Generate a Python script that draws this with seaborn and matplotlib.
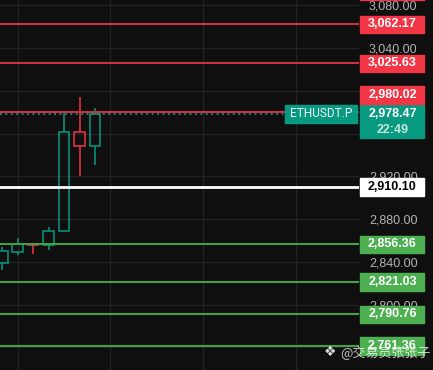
import matplotlib
matplotlib.use("Agg")
import matplotlib.pyplot as plt
from matplotlib.patches import Rectangle
import matplotlib.transforms as mtransforms
import seaborn as sns
import pandas as pd

# ---------------- data ----------------
candle_idx = [0, 1, 2, 3, 4, 5, 6]
opens  = [2839.0, 2849.4, 2856.5, 2856.0, 2868.5, 2961.1, 2948.0]
highs  = [2854.0, 2862.3, 2856.5, 2872.6, 2978.9, 2994.2, 2983.9]
lows   = [2832.3, 2846.4, 2847.6, 2851.3, 2868.5, 2920.5, 2930.8]
closes = [2850.1, 2856.4, 2856.0, 2868.5, 2961.1, 2948.0, 2978.47]

level_prices = [3093.0, 3062.17, 3025.63, 2980.02, 2910.10, 2856.36, 2821.03, 2790.76, 2761.36]
level_kinds  = ["res", "res", "res", "res", "pivot", "sup", "sup", "sup", "sup"]

current_price = 2978.47
symbol = "ETHUSDT.P"
countdown = "22:49"
tick_prices = [2760, 2800, 2840, 2880, 2920, 2960, 3000, 3040, 3080]
grid_x = [1, 7, 13, 19]
watermark = "@交易员张张子"

# ---------------- style ----------------
BG = "#0F0F0F"
UP = "#089981"
DOWN = "#F23645"
box_col = {"res": "#F23645", "pivot": "#FFFFFF", "sup": "#4CAF50"}
line_col = {"res": "#CC3340", "pivot": "#FFFFFF", "sup": "#43A047"}
line_w = {"res": 1.5, "pivot": 2.0, "sup": 1.5}
txt_col = {"res": "white", "pivot": "black", "sup": "white"}

sns.set_theme(style="dark", rc={"axes.facecolor": BG, "figure.facecolor": BG})
plt.rcParams["font.family"] = ["Liberation Sans", "Noto Sans CJK SC", "DejaVu Sans"]

W, H = 433, 370
YMIN, YMAX = 2738.8, 3084.9
ppu = H / (YMAX - YMIN)

fig = plt.figure(figsize=(W / 100, H / 100), dpi=100)
fig.patch.set_facecolor(BG)
ax = fig.add_axes([0, 0, 359 / W, 1])
ax.set_facecolor(BG)
ax.set_ylim(YMIN, YMAX)
ax.set_xlim(-0.149, 23.09)
ax.set_xticks(grid_x)
ax.set_yticks(tick_prices)
ax.grid(True, color="#222222", lw=1)
ax.tick_params(axis="x", bottom=False, labelbottom=False)
ax.yaxis.tick_right()
ax.tick_params(axis="y", right=False, left=False, length=0, pad=7.2,
               labelsize=9, labelcolor="#B4B4B4")
for s in ax.spines.values():
    s.set_visible(False)

# ---------------- candles ----------------
df = pd.DataFrame(dict(i=candle_idx, o=opens, h=highs, l=lows, c=closes))
df["up"] = df.c >= df.o
for _, r in df.iterrows():
    col = UP if r.up else DOWN
    top, bot = max(r.o, r.c), min(r.o, r.c)
    if r.h > top:
        ax.vlines(r.i, top, r.h, color=col, lw=1.1, zorder=3)
    if r.l < bot:
        ax.vlines(r.i, r.l, bot, color=col, lw=1.1, zorder=3)
    ax.bar(r.i, max(top - bot, 0.05), bottom=bot, width=0.68,
           facecolor="none", edgecolor=col, lw=1.1, zorder=3)

# ---------------- level lines ----------------
for p, k in zip(level_prices, level_kinds):
    ax.axhline(p, color=line_col[k], lw=line_w[k], zorder=4)
ax.axhline(current_price, xmin=0, xmax=285 / 359, color=UP, lw=1.3,
           ls=(0, (1, 2)), zorder=4)

# ---------------- right scale labels ----------------
trans = mtransforms.blended_transform_factory(fig.transFigure, ax.transData)
box_h = 17.5 / ppu
bx0, bw = 360 / W, 64 / W
tx = 392.5 / W

covered = []  # price intervals hidden by label boxes

# current price box
pb_top = current_price + 8.5 / ppu
pb_bot = current_price - 24.5 / ppu
covered.append((pb_bot, pb_top))
fig.add_artist(Rectangle((bx0, pb_bot), bw, pb_top - pb_bot, transform=trans,
                         color=UP, zorder=5, clip_on=False))
fig.text(tx, current_price, f"{current_price:,.2f}", transform=trans, ha="center",
         va="center", color="white", fontsize=9, fontweight="bold", zorder=6)
fig.text(tx, current_price - 16.5 / ppu, countdown, transform=trans, ha="center",
         va="center", color="#C4E8DF", fontsize=9, fontweight="bold", zorder=6)
# symbol tag
fig.add_artist(Rectangle((285 / W, current_price - 9 / ppu), 72 / W, 18 / ppu,
                         transform=trans, color=UP, zorder=5, clip_on=False))
fig.text(321 / W, current_price, symbol, transform=trans, ha="center", va="center",
         color="#EAF6F3", fontsize=8.6, family=["Roboto", "DejaVu Sans"], zorder=6)

for p, k in zip(level_prices, level_kinds):
    y = p
    # move away from the current price box if overlapping
    if (y - box_h / 2) < pb_top and (y + box_h / 2) > pb_bot:
        y = pb_top + 1.5 / ppu + box_h / 2
    covered.append((y - box_h / 2, y + box_h / 2))
    fig.add_artist(Rectangle((bx0, y - box_h / 2), bw, box_h, transform=trans,
                             color=box_col[k], zorder=5, clip_on=False))
    if YMIN < y < YMAX:
        fig.text(tx, y, f"{p:,.2f}", transform=trans, ha="center", va="center",
                 color=txt_col[k], fontsize=9, fontweight="bold", zorder=6)


def fmt(v, pos):
    for lo, hi in covered:
        if lo <= v <= hi:
            return ""
    return f"{v:,.2f}"


ax.yaxis.set_major_formatter(fmt)

# ---------------- watermark ----------------
fig.text(330 / W, 1 - 352 / H, "❖", ha="center", va="center", color="white",
         alpha=0.85, fontsize=10, family=["DejaVu Sans"], zorder=7)
fig.text(340 / W, 1 - 352 / H, watermark, ha="left", va="center", color="white",
         alpha=0.75, fontsize=9.4, family=["Noto Sans CJK SC", "DejaVu Sans"], zorder=7)

fig.savefig("out.png", dpi=100, facecolor=BG)
